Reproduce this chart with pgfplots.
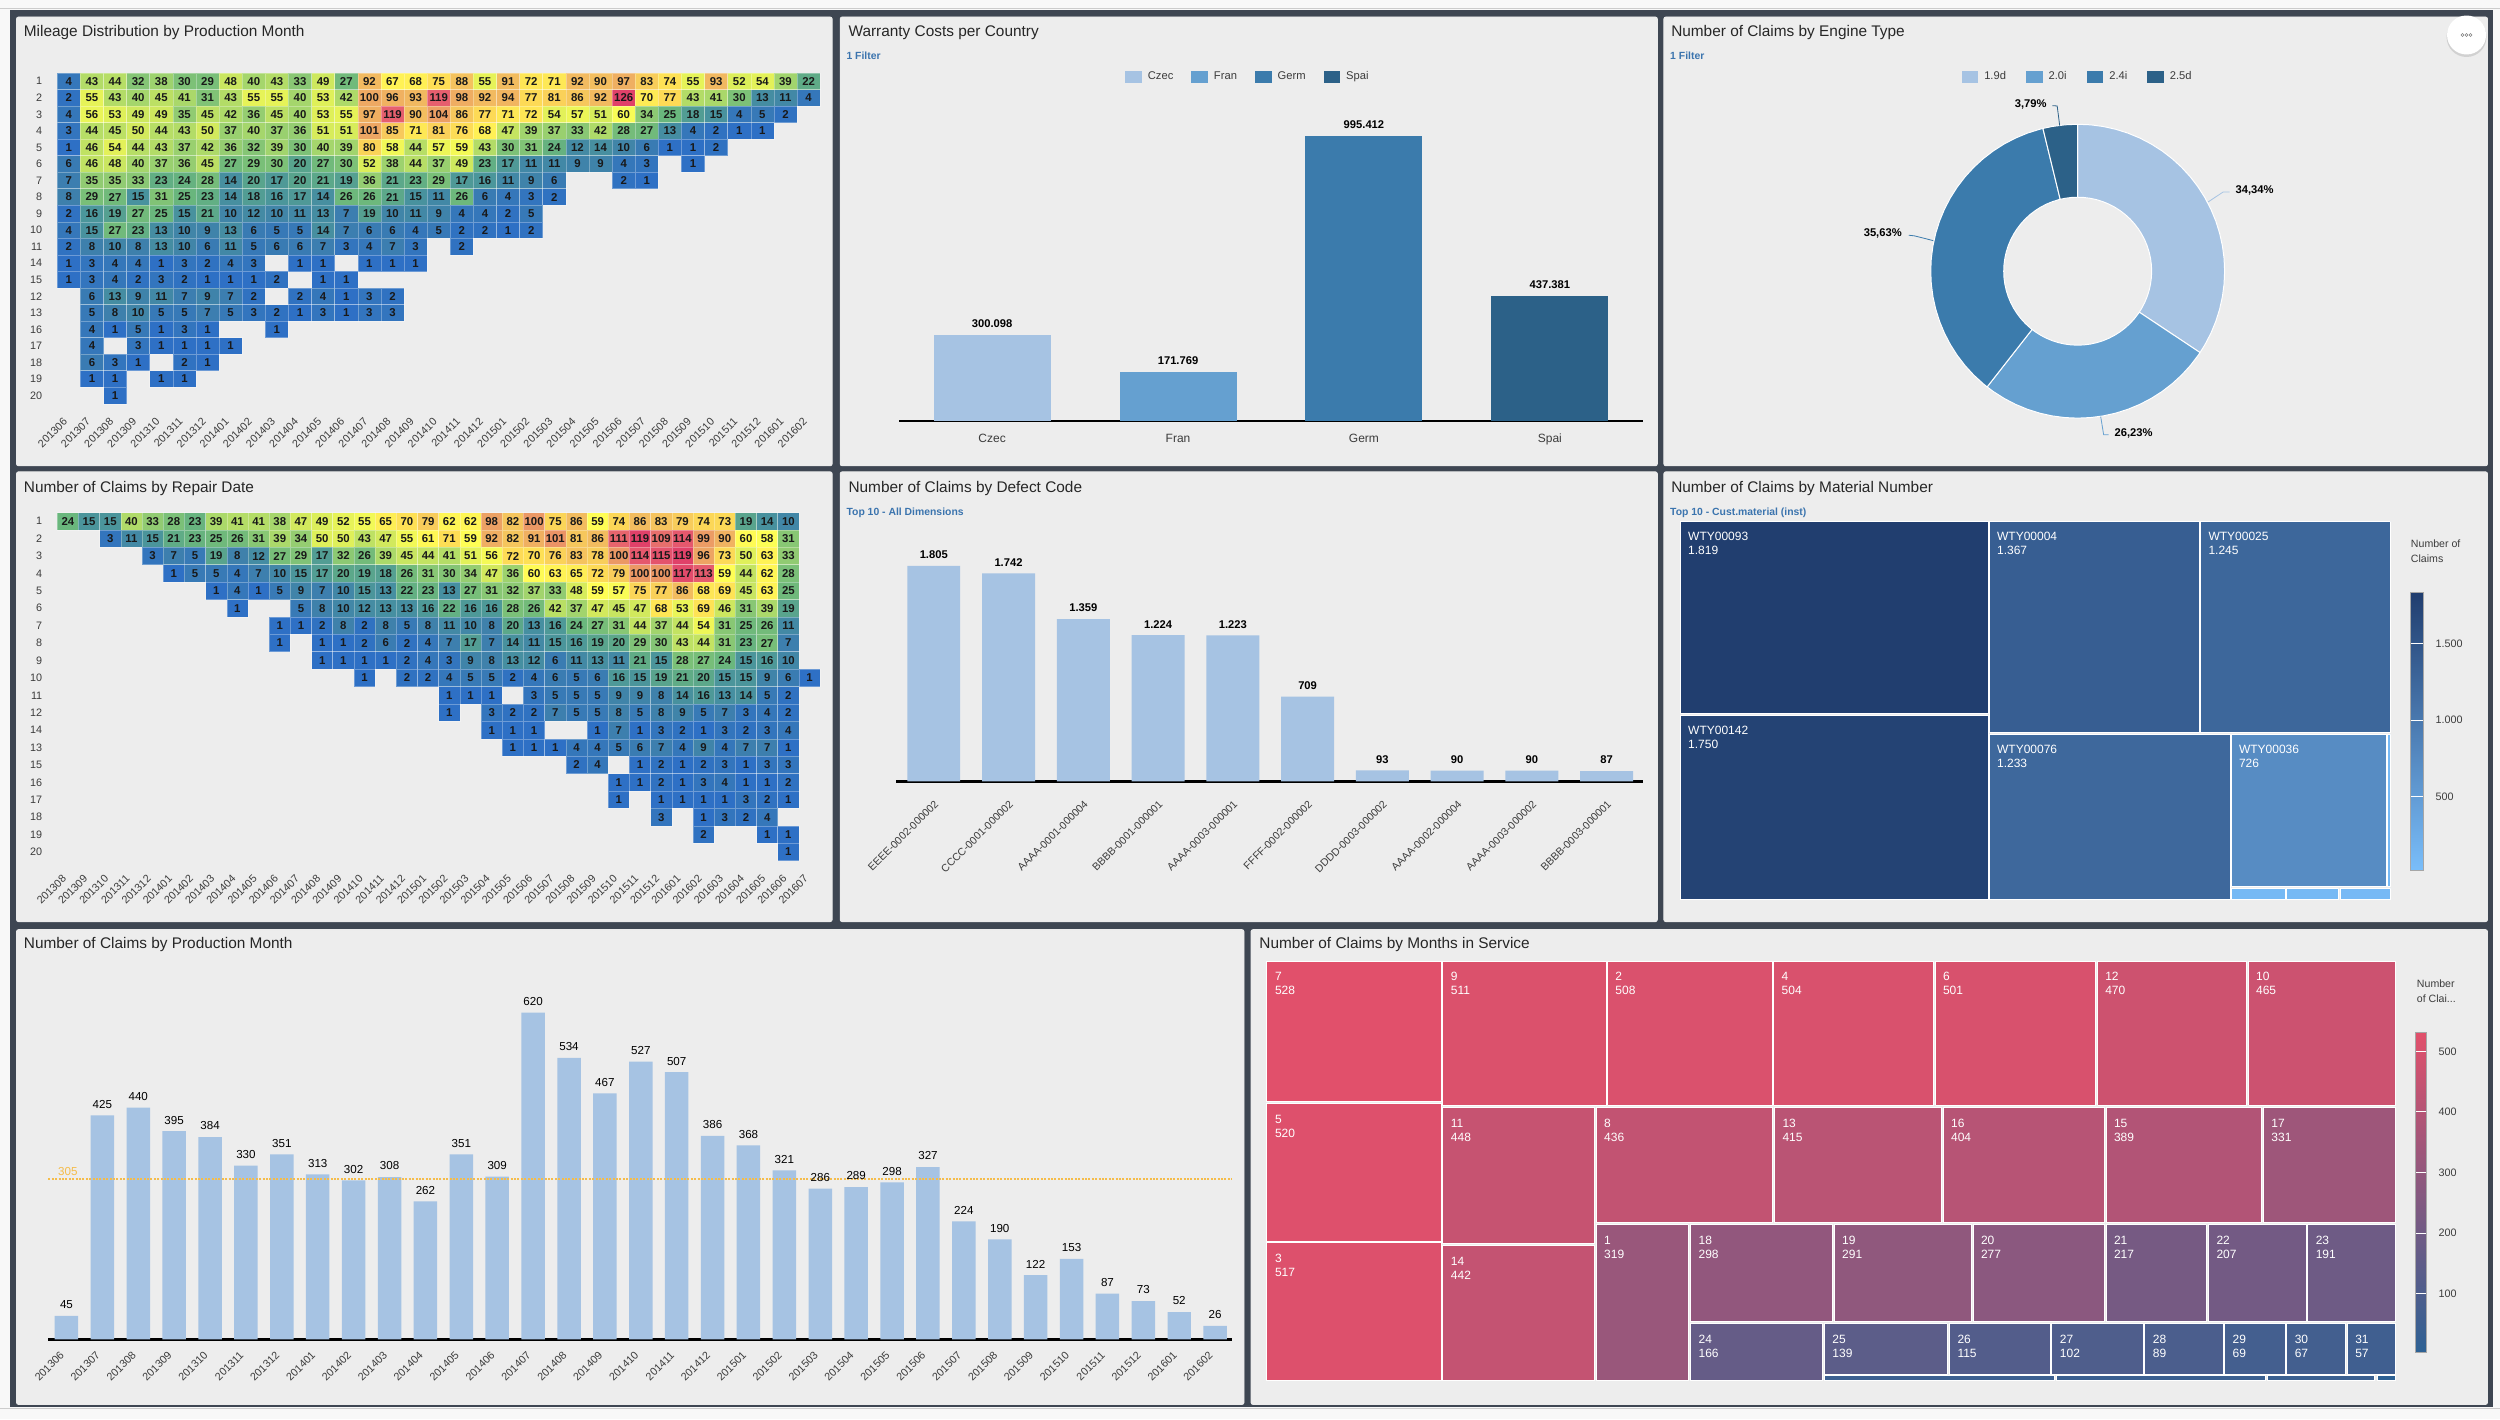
\documentclass[border=0pt]{standalone}
\usepackage{fontspec}
\setmainfont{Liberation Sans}
\usepackage{pgfplots}
\pgfplotsset{compat=1.18}
\usepgfplotslibrary{polar,patchplots}
\usetikzlibrary{plotmarks}

\definecolor{gutter}{HTML}{3E4652}
\definecolor{panel}{HTML}{EDEDED}
\definecolor{pageb}{HTML}{F8F8F8}
\definecolor{c1}{HTML}{A6C3E3}
\definecolor{c2}{HTML}{65A0D0}
\definecolor{c3}{HTML}{3B7BAC}
\definecolor{c4}{HTML}{2C6188}
\definecolor{filt}{HTML}{3B74AE}
\definecolor{ticktxt}{HTML}{3C3C3C}
\definecolor{refl}{HTML}{F5BC4A}

\newcommand\fs[1]{\fontsize{#1}{#1}\selectfont}

\pgfkeys{/pgf/number format/.cd,fixed,precision=0,1000 sep={.},assume math mode=true}

% heat cells, one rectangle per value
\pgfdeclareplotmark{cellA}{\pgfsetstrokecolor{white}\pgfsetstrokeopacity{0.3}\pgfsetlinewidth{0.3pt}\pgfpathrectangle{\pgfpoint{-5.78pt}{-4.14pt}}{\pgfpoint{11.56pt}{8.28pt}}\pgfusepathqfillstroke}
\pgfdeclareplotmark{cellB}{\pgfsetstrokecolor{white}\pgfsetstrokeopacity{0.3}\pgfsetlinewidth{0.3pt}\pgfpathrectangle{\pgfpoint{-5.3pt}{-4.355pt}}{\pgfpoint{10.6pt}{8.71pt}}\pgfusepathqfillstroke}

\pgfplotsset{
  scale only axis,
  heatcolors/.style={colormap={heat}{
    rgb255(0pt)=(46,112,197); rgb255(7pt)=(62,128,172); rgb255(14pt)=(72,146,158);
    rgb255(24pt)=(105,182,125); rgb255(39pt)=(165,214,108); rgb255(51pt)=(220,238,90);
    rgb255(61pt)=(255,255,85); rgb255(74pt)=(254,222,85); rgb255(89pt)=(243,190,95);
    rgb255(103pt)=(236,160,100); rgb255(118pt)=(230,95,110); rgb255(125pt)=(224,65,105)}},
  heatax/.style={heatcolors, clip=false, ymin=-0.5, ymax=19.5, axis line style={draw=none},
    major tick length=0pt, ytick={0,...,19},
    tick label style={text=ticktxt},
    yticklabel style={font=\fs{5.4}, xshift=-4pt},
    xticklabel style={font=\fs{5.4}, rotate=45, anchor=north east, yshift=1pt, xshift=-3.5pt}},
  heatcell/.style={scatter, only marks, scatter src=explicit, mark=#1,
    nodes near coords*, nodes near coords style={anchor=center, font=\bfseries\fs{5.7}, text=black!90, inner sep=0pt}},
  barax/.style={clip=false, ymin=0, axis x line*=bottom, axis y line=none,
    x axis line style={line width=1.25pt, black}, major tick length=0pt,
    scaled y ticks=false,
    tick label style={text=ticktxt}},
  treeax/.style={clip=false, y dir=reverse, axis line style={draw=none}, xtick=\empty, ytick=\empty},
  tmpatch/.style={patch, patch type=rectangle, shader=faceted, faceted color=white,
    line width=0.12pt, point meta=explicit, forget plot},
  lgd/.style={legend image code/.code={\fill[##1,draw=none] (0pt,-3.1pt) rectangle (8.3pt,3.1pt);}},
}

% row index from the top, first column, values
\newcommand\hrow[4]{\foreach \v [count=\i from #3] in {#4} {\xdef#1{#1 (\i,\the\numexpr19-#2\relax)[\v]}}}

% Mileage Distribution by Production Month
\def\ptsA{}
\hrow\ptsA{0}{0}{4,43,44,32,38,30,29,48,40,43,33,49,27,92,67,68,75,88,55,91,72,71,92,90,97,83,74,55,93,52,54,39,22}
\hrow\ptsA{1}{0}{2,55,43,40,45,41,31,43,55,55,40,53,42,100,96,93,119,98,92,94,77,81,86,92,126,70,77,43,41,30,13,11,4}
\hrow\ptsA{2}{0}{4,56,53,49,49,35,45,42,36,45,40,53,55,97,119,90,104,86,77,71,72,54,57,51,60,34,25,18,15,4,5,2}
\hrow\ptsA{3}{0}{3,44,45,50,44,43,50,37,40,37,36,51,51,101,85,71,81,76,68,47,39,37,33,42,28,27,13,4,2,1,1}
\hrow\ptsA{4}{0}{1,46,54,44,43,37,42,36,32,39,30,40,39,80,58,44,57,59,43,30,31,24,12,14,10,6,1,1,2}
\hrow\ptsA{5}{0}{6,46,48,40,37,36,45,27,29,30,20,27,30,52,38,44,37,49,23,17,11,11,9,9,4,3}
\hrow\ptsA{5}{27}{1}
\hrow\ptsA{6}{0}{7,35,35,33,23,24,28,14,20,17,20,21,19,36,21,23,29,17,16,11,9,6}
\hrow\ptsA{6}{24}{2,1}
\hrow\ptsA{7}{0}{8,29,27,15,31,25,23,14,18,16,17,14,26,26,21,15,11,26,6,4,3,2}
\hrow\ptsA{8}{0}{2,16,19,27,25,15,21,10,12,10,11,13,7,19,10,11,9,4,4,2,5}
\hrow\ptsA{9}{0}{4,15,27,23,13,10,9,13,6,5,5,14,7,6,6,4,5,2,2,1,2}
\hrow\ptsA{10}{0}{2,8,10,8,13,10,6,11,5,6,6,7,3,4,7,3}
\hrow\ptsA{10}{17}{2}
\hrow\ptsA{11}{0}{1,3,4,4,1,3,2,4,3}
\hrow\ptsA{11}{10}{1,1}
\hrow\ptsA{11}{13}{1,1,1}
\hrow\ptsA{12}{0}{1,3,4,2,3,2,1,1,1,2}
\hrow\ptsA{12}{11}{1,1}
\hrow\ptsA{13}{1}{6,13,9,11,7,9,7,2}
\hrow\ptsA{13}{10}{2,4,1,3,2}
\hrow\ptsA{14}{1}{5,8,10,5,5,7,5,3,2,1,3,1,3,3}
\hrow\ptsA{15}{1}{4,1,5,1,3,1}
\hrow\ptsA{15}{9}{1}
\hrow\ptsA{16}{1}{4}
\hrow\ptsA{16}{3}{3,1,1,1,1}
\hrow\ptsA{17}{1}{6,3,1}
\hrow\ptsA{17}{5}{2,1}
\hrow\ptsA{18}{1}{1,1}
\hrow\ptsA{18}{4}{1,1}
\hrow\ptsA{19}{2}{1}

% Number of Claims by Repair Date
\def\ptsB{}
\hrow\ptsB{0}{0}{24,15,15,40,33,28,23,39,41,41,38,47,49,52,55,65,70,79,62,62,98,82,100,75,86,59,74,86,83,79,74,73,19,14,10}
\hrow\ptsB{1}{2}{3,11,15,21,23,25,26,31,39,34,50,50,43,47,55,61,71,59,92,82,91,101,81,86,111,119,109,114,99,90,60,58,31}
\hrow\ptsB{2}{4}{3,7,5,19,8,12,27,29,17,32,26,39,45,44,41,51,56,72,70,76,83,78,100,114,115,119,96,73,50,63,33}
\hrow\ptsB{3}{5}{1,5,5,4,7,10,15,17,20,19,18,26,31,30,34,47,36,60,63,65,72,79,100,100,117,113,59,44,62,28}
\hrow\ptsB{4}{7}{1,4,1,5,9,7,10,15,13,22,23,13,27,31,32,37,33,48,59,57,75,77,86,68,69,45,63,25}
\hrow\ptsB{5}{8}{1}
\hrow\ptsB{5}{11}{5,8,10,12,13,13,16,22,16,16,28,26,42,37,47,45,47,68,53,69,46,31,39,19}
\hrow\ptsB{6}{10}{1,1,2,8,2,8,5,8,11,10,8,20,13,16,24,27,31,44,37,44,54,31,25,26,11}
\hrow\ptsB{7}{10}{1}
\hrow\ptsB{7}{12}{1,1,2,6,2,4,7,17,7,14,11,15,16,19,20,29,30,43,44,31,23,27,7}
\hrow\ptsB{8}{12}{1,1,1,1,2,4,3,9,8,13,12,6,11,13,11,21,15,28,27,24,15,16,10}
\hrow\ptsB{9}{14}{1}
\hrow\ptsB{9}{16}{2,2,4,5,5,2,4,6,5,6,16,15,19,21,20,15,15,9,6,1}
\hrow\ptsB{10}{18}{1,1,1}
\hrow\ptsB{10}{22}{3,5,5,5,9,9,8,14,16,13,14,5,2}
\hrow\ptsB{11}{18}{1}
\hrow\ptsB{11}{20}{3,2,2,7,5,5,8,5,8,9,5,7,3,4,2}
\hrow\ptsB{12}{20}{1,1,1}
\hrow\ptsB{12}{25}{1,7,1,3,2,1,3,2,3,4}
\hrow\ptsB{13}{21}{1,1,1,4,4,5,6,7,4,9,4,7,7,1}
\hrow\ptsB{14}{24}{2,4}
\hrow\ptsB{14}{27}{1,2,1,2,3,1,3,3}
\hrow\ptsB{15}{26}{1,1,2,1,3,4,1,1,2}
\hrow\ptsB{16}{26}{1}
\hrow\ptsB{16}{28}{1,1,1,1,3,2,1}
\hrow\ptsB{17}{28}{3}
\hrow\ptsB{17}{30}{1,3,2,4}
\hrow\ptsB{18}{30}{2}
\hrow\ptsB{18}{33}{1,1}
\hrow\ptsB{19}{34}{1}

% treemap cell: x0,y0,x1,y1 in layout pixels, value, name
\newcommand\tmcell[6]{%
  \addplot[tmpatch] coordinates {(#1,#2)[#5] (#3,#2)[#5] (#3,#4)[#5] (#1,#4)[#5]};
  \node[anchor=west, text=white, font=\fs{6}, inner sep=0pt, xshift=4pt, yshift=-8pt] at (axis cs:#1,#2) {#6};
  \node[anchor=west, text=white, font=\fs{6}, inner sep=0pt, xshift=4pt, yshift=-15pt] at (axis cs:#1,#2) {\pgfmathprintnumber{#5}};
}
\newcommand\tmblank[5]{%
  \addplot[tmpatch] coordinates {(#1,#2)[#5] (#3,#2)[#5] (#3,#4)[#5] (#1,#4)[#5]};
}

\begin{document}
\begin{tikzpicture}
\begin{scope}[x=0.5pt,y=-0.5pt]
  \fill[pageb] (0,0) rectangle (2500,1420);
  \fill[gutter] (10,10) rectangle (2493,1408);
  \draw[gray!40,line width=0.5pt] (0,8) -- (2500,8);
  \draw[gray!40,line width=0.5pt] (0,1409.5) -- (2500,1409.5);
  \foreach \a/\b/\c/\d in {16/17/832/466, 840/17/1657.5/466, 1664/17/2488/466,
                           16/472/832/922, 840/472/1657.5/922, 1664/472/2488/922,
                           16/930/1244/1405, 1251/930/2488/1405}
    \fill[panel,draw=white!85!gray,line width=0.4pt,rounded corners=1pt] (\a,\b) rectangle (\c,\d);
\end{scope}

% ---- heat map: production month
\begin{axis}[heatax, at={(28.4pt,-202pt)}, anchor=south west, width=381.6pt, height=165.5pt,
    xmin=-0.5, xmax=32.5, point meta min=1, point meta max=126,
    xtick={0,...,32},
    xticklabels={201306,201307,201308,201309,201310,201311,201312,201401,201402,201403,201404,201405,201406,201407,201408,201409,201410,201411,201412,201501,201502,201503,201504,201505,201506,201507,201508,201509,201510,201511,201512,201601,201602},
    yticklabels={20,19,18,17,16,13,12,15,14,11,10,9,8,7,6,5,4,3,2,1}]
  \edef\tmp{\noexpand\addplot[heatcell=cellA] coordinates {\ptsA};}\tmp
\end{axis}

% ---- heat map: repair date
\begin{axis}[heatax, at={(28.4pt,-430.5pt)}, anchor=south west, width=381.6pt, height=174.15pt,
    xmin=-0.5, xmax=35.5, point meta min=1, point meta max=119,
    xtick={0,...,35},
    xticklabels={201308,201309,201310,201311,201312,201401,201402,201403,201404,201405,201406,201407,201408,201409,201410,201411,201412,201501,201502,201503,201504,201505,201506,201507,201508,201509,201510,201511,201512,201601,201602,201603,201604,201605,201606,201607},
    yticklabels={20,19,18,17,16,15,13,14,12,11,10,9,8,7,6,5,4,3,2,1}]
  \edef\tmp{\noexpand\addplot[heatcell=cellB] coordinates {\ptsB};}\tmp
\end{axis}

% ---- warranty costs
\begin{axis}[barax, at={(449.5pt,-210.5pt)}, anchor=south west, width=372pt, height=142.5pt,
    xmin=-0.5, xmax=3.5, ymax=995412,
    xtick={0,1,2,3}, xticklabels={Czec,Fran,Germ,Spai},
    xticklabel style={font=\fs{6}, yshift=-3pt},
    lgd,
    legend columns=4,
    legend style={at={(0.469,1.207)}, anchor=center, draw=none, fill=none, font=\fs{5.6},
      text=ticktxt, nodes={inner sep=1pt},
      /tikz/every odd column/.append style={column sep=2pt},
      /tikz/every even column/.append style={column sep=8pt}},
    nodes near coords style={font=\bfseries\fs{5.6}, text=black}]
  \addplot[ybar, bar shift=0pt, bar width=58.5pt, fill=c1, draw=none, nodes near coords] coordinates {(0,300098)};
  \addlegendentry{Czec}
  \addplot[ybar, bar shift=0pt, bar width=58.5pt, fill=c2, draw=none, nodes near coords] coordinates {(1,171769)};
  \addlegendentry{Fran}
  \addplot[ybar, bar shift=0pt, bar width=58.5pt, fill=c3, draw=none, nodes near coords] coordinates {(2,995412)};
  \addlegendentry{Germ}
  \addplot[ybar, bar shift=0pt, bar width=58.5pt, fill=c4, draw=none, nodes near coords] coordinates {(3,437381)};
  \addlegendentry{Spai}
\end{axis}

% ---- engine type donut, (angle,radius) outlines, shares 34.34 26.23 35.63 3.79
\begin{axis}[at={(965.5pt,-209.15pt)}, anchor=south west, width=147pt, height=147pt,
    xmin=-147, xmax=147, ymin=-147, ymax=147, hide axis, clip=false, lgd,
    legend columns=4,
    legend style={at={(0.5,1.16)}, anchor=center, draw=none, fill=none, font=\fs{5.6},
      text=ticktxt, nodes={inner sep=1pt},
      /tikz/every odd column/.append style={column sep=2pt},
      /tikz/every even column/.append style={column sep=9pt}}]
  \addplot[data cs=polar, fill=c1, draw=white, line width=0.5pt] coordinates {
    (90,147)(85,147)(80,147)(75,147)(70,147)(65,147)(60,147)(55,147)(50,147)(45,147)(40,147)(35,147)(30,147)(25,147)(20,147)(15,147)(10,147)(5,147)(0,147)(-5,147)(-10,147)(-15,147)(-20,147)(-25,147)(-30,147)(-33.62,147)
    (-33.62,74)(-30,74)(-25,74)(-20,74)(-15,74)(-10,74)(-5,74)(0,74)(5,74)(10,74)(15,74)(20,74)(25,74)(30,74)(35,74)(40,74)(45,74)(50,74)(55,74)(60,74)(65,74)(70,74)(75,74)(80,74)(85,74)(90,74)(90,147)};
  \addlegendentry{1.9d}
  \addplot[data cs=polar, fill=c2, draw=white, line width=0.5pt] coordinates {
    (-33.62,147)(-35,147)(-40,147)(-45,147)(-50,147)(-55,147)(-60,147)(-65,147)(-70,147)(-75,147)(-80,147)(-85,147)(-90,147)(-95,147)(-100,147)(-105,147)(-110,147)(-115,147)(-120,147)(-125,147)(-128.05,147)
    (-128.05,74)(-125,74)(-120,74)(-115,74)(-110,74)(-105,74)(-100,74)(-95,74)(-90,74)(-85,74)(-80,74)(-75,74)(-70,74)(-65,74)(-60,74)(-55,74)(-50,74)(-45,74)(-40,74)(-35,74)(-33.62,74)(-33.62,147)};
  \addlegendentry{2.0i}
  \addplot[data cs=polar, fill=c3, draw=white, line width=0.5pt] coordinates {
    (-128.05,147)(-130,147)(-135,147)(-140,147)(-145,147)(-150,147)(-155,147)(-160,147)(-165,147)(-170,147)(-175,147)(-180,147)(-185,147)(-190,147)(-195,147)(-200,147)(-205,147)(-210,147)(-215,147)(-220,147)(-225,147)(-230,147)(-235,147)(-240,147)(-245,147)(-250,147)(-255,147)(-256.32,147)
    (-256.32,74)(-255,74)(-250,74)(-245,74)(-240,74)(-235,74)(-230,74)(-225,74)(-220,74)(-215,74)(-210,74)(-205,74)(-200,74)(-195,74)(-190,74)(-185,74)(-180,74)(-175,74)(-170,74)(-165,74)(-160,74)(-155,74)(-150,74)(-145,74)(-140,74)(-135,74)(-130,74)(-128.05,74)(-128.05,147)};
  \addlegendentry{2.4i}
  \addplot[data cs=polar, fill=c4, draw=white, line width=0.5pt] coordinates {
    (-256.32,147)(-260,147)(-265,147)(-270,147)(-270,74)(-265,74)(-260,74)(-256.32,74)(-256.32,147)};
  \addlegendentry{2.5d}
\end{axis}

% ---- defect code
\begin{axis}[barax, at={(448pt,-390.85pt)}, anchor=south west, width=373.5pt, height=107.85pt,
    xmin=-0.503, xmax=9.484, ymax=1805,
    xtick={0,...,9},
    xticklabels={EEEE-0002-000002,CCCC-0001-000002,AAAA-0001-000004,BBBB-0001-000001,AAAA-0003-000001,FFFF-0002-000002,DDDD-0003-000002,AAAA-0002-000004,AAAA-0003-000002,BBBB-0003-000001},
    xticklabel style={font=\fs{5.3}, rotate=45, anchor=north east, yshift=-3pt, xshift=-3pt},
    nodes near coords style={font=\bfseries\fs{5.6}, text=black}]
  \addplot[ybar, bar shift=0pt, bar width=26.5pt, fill=c1, draw=none, nodes near coords] coordinates {
    (0,1805)(1,1742)(2,1359)(3,1224)(4,1223)(5,709)(6,93)(7,90)(8,90)(9,87)};
\end{axis}

% ---- material number treemap
\begin{axis}[treeax, at={(840pt,-449.5pt)}, anchor=south west, width=355.5pt, height=189pt,
    xmin=1680, xmax=2391, ymin=521, ymax=899,
    colormap={mat}{rgb255(0pt)=(122,190,250); rgb255(1pt)=(33,62,111)},
    point meta min=17, point meta max=1833,
    colorbar,
    colorbar style={at={(parent axis.north east)}, anchor=north west, xshift=1.5pt, yshift=-36pt,
      width=6.5pt, height=139pt, ytick={500,1000,1500},
      axis line style={gray!70, line width=0.6pt},
      ytick style={white, line width=0.5pt}, tick align=inside, major tick length=6.5pt,
      yticklabel style={font=\fs{5.4}, text=ticktxt, xshift=2.5pt}, yticklabel pos=right}]
  \tmcell{1680}{521}{1988}{713}{1819}{WTY00093}
  \tmcell{1680}{715}{1988}{899}{1750}{WTY00142}
  \tmcell{1989}{521}{2199}{732}{1367}{WTY00004}
  \tmcell{2200.5}{521}{2391}{732}{1245}{WTY00025}
  \tmcell{1989}{734}{2230}{899}{1233}{WTY00076}
  \tmcell{2231}{734}{2386.5}{886}{726}{WTY00036}
  \tmblank{2388}{734}{2391}{886}{93}
  \tmblank{2231}{888}{2286}{899}{90}
  \tmblank{2287}{888}{2339}{899}{90}
  \tmblank{2341}{888}{2391}{899}{87}
\end{axis}

% ---- production month bars
\begin{axis}[barax, at={(24pt,-670pt)}, anchor=south west, width=592pt, height=163.5pt,
    xmin=-0.501, xmax=32.47, ymax=620,
    xtick={0,...,32},
    xticklabels={201306,201307,201308,201309,201310,201311,201312,201401,201402,201403,201404,201405,201406,201407,201408,201409,201410,201411,201412,201501,201502,201503,201504,201505,201506,201507,201508,201509,201510,201511,201512,201601,201602},
    xticklabel style={font=\fs{5.4}, rotate=45, anchor=north east, yshift=2pt, xshift=-3pt},
    nodes near coords style={font=\fs{5.8}, text=black}]
  \addplot[ybar, bar shift=0pt, bar width=11.75pt, fill=c1, draw=none, nodes near coords] coordinates {
    (0,45)(1,425)(2,440)(3,395)(4,384)(5,330)(6,351)(7,313)(8,302)(9,308)(10,262)(11,351)(12,309)(13,620)(14,534)(15,467)(16,527)(17,507)(18,386)(19,368)(20,321)(21,286)(22,289)(23,298)(24,327)(25,224)(26,190)(27,122)(28,153)(29,87)(30,73)(31,52)(32,26)};
  \addplot[draw=refl, line width=1pt, dash pattern=on 1pt off 0.7pt] coordinates {(-0.501,305)(32.47,305)};
  \node[text=refl, font=\fs{5.8}, anchor=south, inner sep=1.5pt] at (axis cs:0.04,305) {305};
\end{axis}

% ---- months in service treemap
\begin{axis}[treeax, at={(633.3pt,-690.5pt)}, anchor=south west, width=564.6pt, height=210pt,
    xmin=1266.6, xmax=2395.8, ymin=961, ymax=1381,
    colormap={mon}{rgb255(0pt)=(45,97,148); rgb255(1pt)=(225,80,107)},
    point meta min=3, point meta max=531,
    colorbar,
    colorbar style={at={(parent axis.north east)}, anchor=north west, xshift=1.6pt, yshift=-36pt,
      width=5.5pt, height=160pt, ytick={100,200,300,400,500},
      axis line style={gray!70, line width=0.6pt},
      ytick style={white, line width=0.5pt}, tick align=inside, major tick length=5.5pt,
      yticklabel style={font=\fs{5.4}, text=ticktxt, xshift=2.5pt}, yticklabel pos=right}]
  \tmcell{1266.6}{961}{1441}{1102}{528}{7}
  \tmcell{1266.6}{1103.7}{1441}{1241.3}{520}{5}
  \tmcell{1266.6}{1242.7}{1441}{1381}{517}{3}
  \tmcell{1442.6}{961}{1606.4}{1106}{511}{9}
  \tmcell{1607.2}{961}{1771.9}{1106}{508}{2}
  \tmcell{1773.5}{961}{1933.3}{1106}{504}{4}
  \tmcell{1934.9}{961}{2095.5}{1106}{501}{6}
  \tmcell{2097.2}{961}{2246.5}{1106}{470}{12}
  \tmcell{2248.1}{961}{2395.8}{1106}{465}{10}
  \tmcell{1442.6}{1108}{1594.3}{1244}{448}{11}
  \tmcell{1442.6}{1245.7}{1594.3}{1381}{442}{14}
  \tmcell{1595.9}{1108}{1772.7}{1222.7}{436}{8}
  \tmcell{1774.3}{1108}{1941.4}{1222.7}{415}{13}
  \tmcell{1943}{1108}{2104.4}{1222.7}{404}{16}
  \tmcell{2106}{1108}{2261.8}{1222.7}{389}{15}
  \tmcell{2263.4}{1108}{2395.8}{1222.7}{331}{17}
  \tmcell{1595.9}{1224.7}{1688.7}{1381}{319}{1}
  \tmcell{1690.4}{1224.7}{1832.4}{1322}{298}{18}
  \tmcell{1834}{1224.7}{1971.2}{1322}{291}{19}
  \tmcell{1972.9}{1224.7}{2104.4}{1322}{277}{20}
  \tmcell{2106}{1224.7}{2206.9}{1322}{217}{21}
  \tmcell{2208.5}{1224.7}{2306.2}{1322}{207}{22}
  \tmcell{2307.8}{1224.7}{2395.8}{1322}{191}{23}
  \tmcell{1690.4}{1324}{1822.7}{1381}{166}{24}
  \tmcell{1824.3}{1324}{1947.8}{1374.3}{139}{25}
  \tmcell{1949.4}{1324}{2050.3}{1374.3}{115}{26}
  \tmcell{2051.9}{1324}{2143.2}{1374.3}{102}{27}
  \tmcell{2144.8}{1324}{2223}{1374.3}{89}{28}
  \tmcell{2224.6}{1324}{2285.2}{1374.3}{69}{29}
  \tmcell{2286.8}{1324}{2345.7}{1374.3}{67}{30}
  \tmcell{2347.3}{1324}{2395.8}{1374.3}{57}{31}
  \tmblank{1824.3}{1376}{2054.4}{1381}{46}
  \tmblank{2056.8}{1376}{2265.8}{1381}{43}
  \tmblank{2267.4}{1376}{2374.8}{1381}{40}
  \tmblank{2377.2}{1376}{2395.8}{1381}{5}
\end{axis}

% ---- titles, notes, donut labels
\begin{scope}[x=0.5pt,y=-0.5pt,every node/.style={anchor=west,inner sep=0pt}]
  \foreach \x/\y/\t in {23/33/Mileage Distribution by Production Month,
      848/33/Warranty Costs per Country, 1671/33/Number of Claims by Engine Type,
      23/489/Number of Claims by Repair Date, 848/489/Number of Claims by Defect Code,
      1671/489/Number of Claims by Material Number, 23/945/Number of Claims by Production Month,
      1259/945/Number of Claims by Months in Service}
    \node[font=\fs{7.7},text=black!85] at (\x,\y) {\t};
  \foreach \x/\y/\t in {846/56/1 Filter, 1670/56/1 Filter, 846/513/Top 10 - All Dimensions,
      1670/513/Top 10 - Cust.material (inst)}
    \node[font=\bfseries\fs{5.2},text=filt] at (\x,\y) {\t};
  \node[font=\fs{5.3},text=ticktxt] at (2411,544) {Number of};
  \node[font=\fs{5.3},text=ticktxt] at (2411,559) {Claims};
  \node[font=\fs{5.3},text=ticktxt] at (2417,984) {Number};
  \node[font=\fs{5.3},text=ticktxt] at (2417,999) {of Clai...};
  \draw[c1,line width=0.4pt] (2208.5,202) -- (2223.6,192) -- (2230,192);
  \draw[c2,line width=0.4pt] (2101,416.7) -- (2104,435) -- (2109,435);
  \draw[c3,line width=0.4pt] (1909,235.3) -- (1915,236) -- (1933.5,240.7);
  \draw[c4,line width=0.4pt] (2052.7,105.7) -- (2057.5,106) -- (2060,125.7);
  \foreach \x/\y/\t in {2255/191/{34,34\%}, 2134/434/{26,23\%}, 1883/234/{35,63\%}, 2031/104/{3,79\%}}
    \node[anchor=center,font=\bfseries\fs{5.6},text=black] at (\x,\y) {\t};
  \fill[black!18] (2467,37) circle[radius=20];
  \fill[white] (2467,35) circle[radius=19.5];
  \foreach \x in {2463,2467,2471}
    \draw[gray,line width=0.3pt] (\x,35) circle[radius=1.5];
\end{scope}
\end{tikzpicture}
\end{document}
